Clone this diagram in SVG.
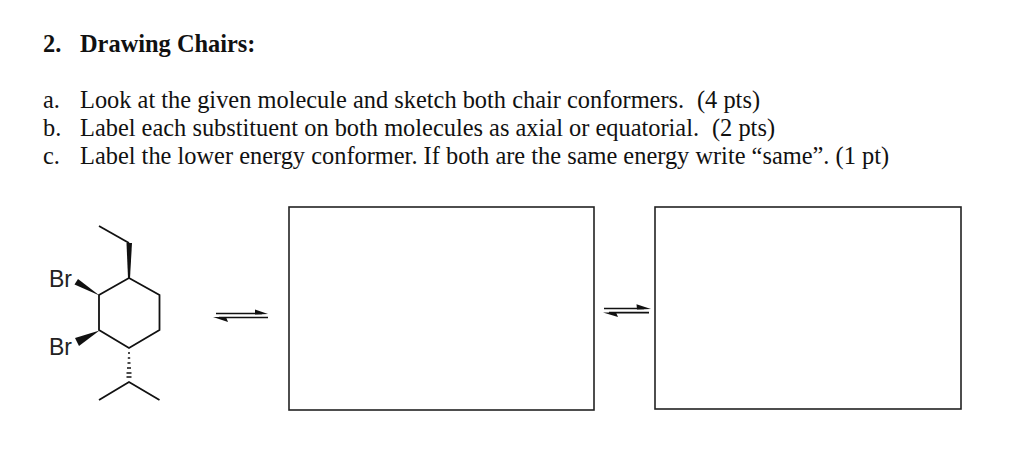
<svg xmlns="http://www.w3.org/2000/svg" width="1024" height="461" viewBox="0 0 1024 461">
<style>
.t{font-family:"Liberation Serif","Times New Roman",serif;font-size:24.4px;fill:#111}
.b{font-weight:bold}
.l{font-family:"Liberation Sans",Arial,sans-serif;font-size:23px;fill:#222}
.s{fill:none;stroke:#111;stroke-width:1.8}
.h{fill:none;stroke:#111;stroke-width:1.6}
.a{fill:none;stroke:#111;stroke-width:1.7}
.box{fill:#fff;stroke:#222;stroke-width:1.6}
.w{fill:#111;stroke:none}
</style>
<rect width="1024" height="461" fill="#fff"/>
<text class="t b" x="43" y="52">2.</text>
<text class="t b" x="80" y="52">Drawing Chairs:</text>
<text class="t" x="43" y="108">a.</text>
<text class="t" x="80" y="108">Look at the given molecule and sketch both chair conformers.</text>
<text class="t" x="697" y="108">(4 pts)</text>
<text class="t" x="43" y="136">b.</text>
<text class="t" x="80" y="136">Label each substituent on both molecules as axial or equatorial.</text>
<text class="t" x="712" y="136">(2 pts)</text>
<text class="t" x="43" y="164">c.</text>
<text class="t" x="80" y="164">Label the lower energy conformer. If both are the same energy write “same”. (1 pt)</text>
<g id="molecule">
<path class="s" d="M129 278L159.5 295V330L129 348L99 330V295Z"/>
<path class="s" d="M99 226L129 243"/>
<path class="w" d="M126.500 243L132 243L130 278H128Z"/>
<path class="w" d="M99.500 295.500L78 279L74.500 284.500Z"/>
<path class="w" d="M99.500 330.500L75 338L79 346Z"/>
<path class="h" d="M128 353H130M127.800 358H130.200M127.500 363H130.500M127 368H131M126.500 373H131.500M126.500 377H131.500"/>
<path class="s" d="M99 400L129 382L159.500 400"/>
<text class="l" x="49" y="287">Br</text>
<text class="l" x="49" y="355">Br</text>
</g>
<g id="box1"><rect class="box" x="289" y="207" width="305" height="203"/></g>
<g id="box2"><rect class="box" x="655" y="207" width="306" height="202"/></g>
<g id="connectors">
<path class="a" d="M216 313.500H262"/>
<path class="w" d="M255 309.500L268 314L255 314.500Z"/>
<path class="a" d="M219 317.500H268"/>
<path class="w" d="M213 317L228 322L226 317Z"/>
<path class="a" d="M604 308.500H644"/>
<path class="w" d="M636.500 304.300L651 309L637 309.500Z"/>
<path class="a" d="M609 312.700H649"/>
<path class="w" d="M603 312.500L618 317L616 312.500Z"/>
</g>
</svg>
